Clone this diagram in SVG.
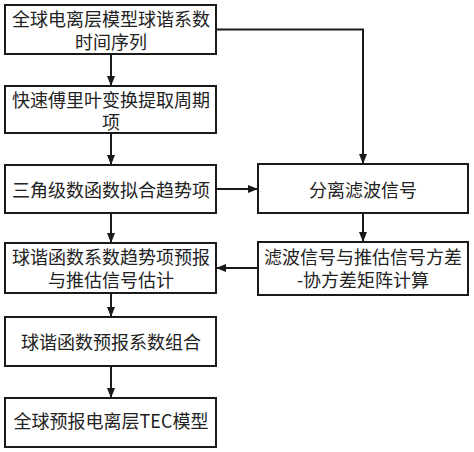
<svg xmlns="http://www.w3.org/2000/svg" width="474" height="452" viewBox="0 0 474 452">
<defs>
<style>
.box{fill:#ffffff;stroke:#1a1a1a;stroke-width:2}
.t{font-family:"Noto Sans CJK SC","Liberation Sans",sans-serif;font-size:18px;fill:#222222;text-anchor:middle}
.c{fill:none;stroke:#1a1a1a;stroke-width:2}
</style>
<marker id="ah" viewBox="0 0 10 8" refX="10" refY="4" markerWidth="10" markerHeight="8" markerUnits="userSpaceOnUse" orient="auto">
<path d="M0,0 L10,4 L0,8 z" fill="#1a1a1a"/>
</marker>
</defs>
<rect width="474" height="452" fill="#ffffff"/>
<g id="connectors">
<path class="c" d="M111,54 V86" marker-end="url(#ah)"/>
<path class="c" d="M111,133 V165" marker-end="url(#ah)"/>
<path class="c" d="M111,213 V243" marker-end="url(#ah)"/>
<path class="c" d="M111,293 V317" marker-end="url(#ah)"/>
<path class="c" d="M111,366 V398" marker-end="url(#ah)"/>
<path class="c" d="M216,29.5 H363 V164" marker-end="url(#ah)"/>
<path class="c" d="M216,189 H258" marker-end="url(#ah)"/>
<path class="c" d="M363,213 V242" marker-end="url(#ah)"/>
<path class="c" d="M258,268 H216" marker-end="url(#ah)"/>
</g>
<g id="n1"><rect class="box" x="5" y="5" width="211" height="49"/><text class="t" x="111" y="25.5">全球电离层模型球谐系数</text><text class="t" x="111" y="48.5">时间序列</text></g>
<g id="n2"><rect class="box" x="5" y="86" width="211" height="47"/><text class="t" x="111" y="106.5">快速傅里叶变换提取周期</text><text class="t" x="111" y="128.5">项</text></g>
<g id="n3"><rect class="box" x="5" y="165" width="211" height="48"/><text class="t" x="111" y="196.5">三角级数函数拟合趋势项</text></g>
<g id="n4"><rect class="box" x="5" y="243" width="211" height="50"/><text class="t" x="111" y="263.5">球谐函数系数趋势项预报</text><text class="t" x="111" y="286.5">与推估信号估计</text></g>
<g id="n5"><rect class="box" x="5" y="317" width="211" height="49"/><text class="t" x="111" y="349">球谐函数预报系数组合</text></g>
<g id="n6"><rect class="box" x="5" y="398" width="211" height="49"/><text class="t" x="111" y="428">全球预报电离层TEC模型</text></g>
<g id="r1"><rect class="box" x="258" y="164" width="210" height="49"/><text class="t" x="363" y="196.5">分离滤波信号</text></g>
<g id="r2"><rect class="box" x="258" y="242" width="210" height="53"/><text class="t" x="363" y="263.5">滤波信号与推估信号方差</text><text class="t" x="363" y="286.5">-协方差矩阵计算</text></g>
</svg>
